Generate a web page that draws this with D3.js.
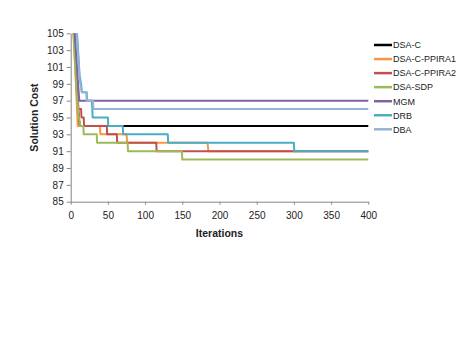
<!DOCTYPE html>
<html>
<head>
<meta charset="utf-8">
<script src="https://cdn.jsdelivr.net/npm/d3@7"></script>
<style>
html,body{margin:0;padding:0;background:#fff;}
svg{display:block;}
text{font-family:"Liberation Sans",Arial,sans-serif;}
</style>
</head>
<body>
<svg id="chart" width="474" height="355"></svg>
<script>
// ---- data ----
const seriesNames = ["DSA-C","DSA-C-PPIRA1","DSA-C-PPIRA2","DSA-SDP","MGM","DRB","DBA"];
const seriesColors = ["#000000","#F79646","#C0504D","#9BBB59","#8064A2","#4BACC6","#95B3D7"];
const dsaC      = [[0,118],[5,105],[9,97],[11,95],[12,94],[400,94]];
const dsaCPP1   = [[0,115],[4,105],[8,97],[9.5,94],[39,94],[40,93],[75,93],[76,92],[184,92],[185,91],[400,91]];
const dsaCPP2   = [[0,115],[4.5,105],[9,98],[10.5,96],[14,96],[14.5,95],[17.5,95],[18,94],[48.5,94],[49,93],[62,93],[62.5,92],[115,92],[115.5,91],[400,91]];
const dsaSDP    = [[0,112],[3.5,105],[8,98],[11,95],[13,94],[17,94],[17.5,93],[35,93],[35.5,92],[76.5,92],[77,91],[149.5,91],[150,90],[400,90]];
const mgm       = [[0,118],[5.5,105],[11.5,97],[400,97]];
const drb       = [[0,122],[8.5,105],[12,100],[14,99],[15,98],[21.5,98],[22,97],[28.5,97],[29.5,95],[50,95],[50.5,94],[70,94],[70.5,93],[130.5,93],[131,92],[300,92],[300.5,91],[400,91]];
const dba       = [[0,122],[8,105],[12,99.5],[15,98],[21,98],[21.5,97],[30,97],[30.5,96],[400,96]];
const seriesValues = [dsaC, dsaCPP1, dsaCPP2, dsaSDP, mgm, drb, dba];
const xTicks = [0,50,100,150,200,250,300,350,400];
const yTicks = [85,87,89,91,93,95,97,99,101,103,105];
const xTitle = "Iterations";
const yTitle = "Solution Cost";

// ---- layout ----
const svg = d3.select("#chart");
const L = 70.7, R = 368.3, T = 33.3, B = 201.7;
const x = d3.scaleLinear().domain([0,400]).range([L,R]);
const y = d3.scaleLinear().domain([85,105]).range([B,T]);

svg.append("defs").append("clipPath").attr("id","clip")
  .append("rect").attr("x",L).attr("y",T).attr("width",R-L+2).attr("height",B-T);

// axes
const axisColor = "#868686";
const gx = svg.append("g").attr("transform",`translate(0,${B})`)
  .call(d3.axisBottom(x).tickValues(xTicks).tickSize(3).tickSizeOuter(0).tickPadding(7));
const gy = svg.append("g").attr("transform",`translate(${L},0)`)
  .call(d3.axisLeft(y).tickValues(yTicks).tickSize(4).tickSizeOuter(0).tickPadding(3));
[gx,gy].forEach(g=>{
  g.selectAll("path,line").attr("stroke",axisColor);
  g.selectAll("text").attr("fill","#222").style("font-size","10px");
});

// lines
const line = d3.line().x(d=>x(d[0])).y(d=>y(d[1]));
const plot = svg.append("g").attr("clip-path","url(#clip)");
seriesValues.forEach((vals,i)=>{
  plot.append("path").datum(vals).attr("d",line)
    .attr("fill","none").attr("stroke",seriesColors[i])
    .attr("stroke-width",2).attr("stroke-linejoin","round");
});

// titles
svg.append("text").attr("x",(L+R)/2).attr("y",237).attr("text-anchor","middle")
  .style("font-size","10.5px").style("font-weight","bold").attr("fill","#222").text(xTitle);
svg.append("text").attr("transform",`translate(38,${(T+B)/2}) rotate(-90)`).attr("text-anchor","middle")
  .style("font-size","10.5px").style("font-weight","bold").attr("fill","#222").text(yTitle);

// legend
const leg = svg.append("g");
seriesNames.forEach((n,i)=>{
  const yy = 45 + i*14.05;
  leg.append("line").attr("x1",374).attr("x2",392).attr("y1",yy).attr("y2",yy)
    .attr("stroke",seriesColors[i]).attr("stroke-width",2.5);
  leg.append("text").attr("x",393).attr("y",yy+3.3).style("font-size","9px").attr("fill","#222").text(n);
});
</script>
</body>
</html>
